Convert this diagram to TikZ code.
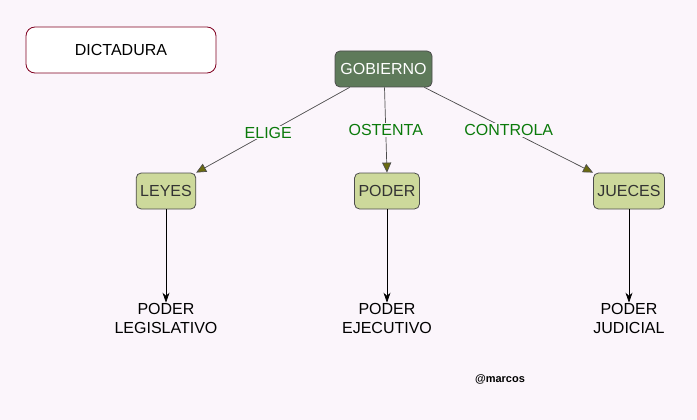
\documentclass[tikz,border=0pt]{standalone}
\usepackage{fontspec}
\setmainfont{Liberation Sans}
\usetikzlibrary{positioning, arrows.meta}
\definecolor{bgpink}{HTML}{FBF5FB}
\definecolor{rootfill}{HTML}{5E7A5A}
\definecolor{leaffill}{HTML}{CDD99B}
\definecolor{linkgreen}{HTML}{0A7A0A}
\definecolor{headolive}{HTML}{6B6B10}
\definecolor{titleborder}{HTML}{800020}

\begin{document}
\begin{tikzpicture}[
    x=1pt, y=-1pt,
    every node/.style={font=\fontsize{16}{19}\selectfont, inner sep=0pt},
    titlebox/.style={draw=titleborder, line width=0.8pt, fill=white, rounded corners=9pt, minimum width=190pt, minimum height=46pt},
    root/.style={draw=black!70, line width=0.8pt, fill=rootfill, text=white, rounded corners=5pt, minimum width=97pt, minimum height=36pt},
    concept/.style={draw=black!70, line width=0.8pt, fill=leaffill, text=black!80, rounded corners=5pt, minimum height=36pt, inner xsep=4pt},
    plain/.style={align=center},
    linklabel/.style={text=linkgreen, fill=bgpink, inner sep=1pt},
    link/.style={-{Triangle[length=10pt, width=9pt, fill=headolive]}, draw=gray!60!black, line width=0.7pt},
    arrow/.style={-{Stealth[length=10pt, width=7pt]}, draw=black, line width=0.7pt}
]
\fill[bgpink] (0,0) rectangle (697,420);
\useasboundingbox (0,0) rectangle (697,420);

\node[titlebox] (title) at (121,50) {DICTADURA};
\node[root] (gob) at (383.5,69) {GOBIERNO};
\node[concept] (leyes) at (166,191) {LEYES};
\node[concept] (poder) at (387,191) {PODER};
\node[concept] (jueces) at (629,191) {JUECES};

\node[plain] (leg) at (166,318) {PODER\\LEGISLATIVO};
\node[plain] (eje) at (387,318) {PODER\\EJECUTIVO};
\node[plain] (jud) at (629,318) {PODER\\JUDICIAL};

\coordinate (g1) at ([xshift=15pt]gob.south west);
\coordinate (g2) at ([xshift=1pt]gob.south);
\coordinate (g3) at ([xshift=-8pt]gob.south east);

\draw[link] (g1) -- (leyes.north east) node[linklabel, pos=0.53] (l1) {ELIGE};
\draw[link] (g2) -- (poder.north) node[linklabel, pos=0.5] (l2) {OSTENTA};
\draw[link] (g3) -- (jueces.north west) node[linklabel, pos=0.5] (l3) {CONTROLA};

\draw[arrow] (leyes) -- (leg);
\draw[arrow] (poder) -- (eje);
\draw[arrow] (jueces) -- (jud);

\node[font=\fontsize{11}{13}\selectfont\bfseries] (firma) at (500,379) {@marcos};

\end{tikzpicture}
\end{document}
